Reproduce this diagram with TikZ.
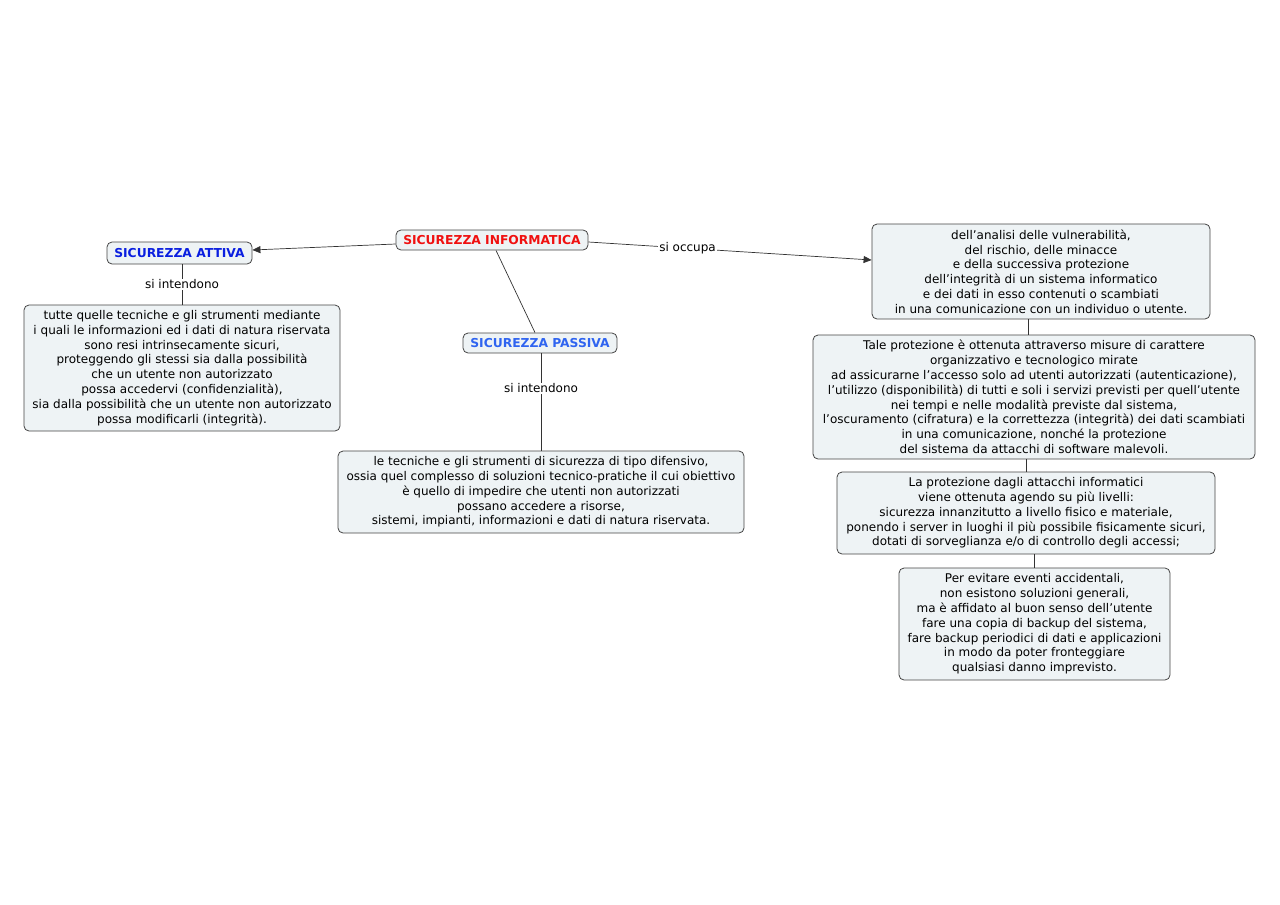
\documentclass[tikz,border=0pt]{standalone}
\usepackage{fontspec}
\setmainfont{DejaVu Sans}
\usetikzlibrary{arrows.meta,calc}
\definecolor{boxfill}{HTML}{EEF3F5}
\definecolor{boxline}{HTML}{444444}
\definecolor{redtitle}{HTML}{F01010}
\definecolor{bluetitle}{HTML}{0A1EE0}
\definecolor{lblue}{HTML}{2F64F0}
\tikzset{
  cbox/.style={draw=boxline, fill=boxfill, rounded corners=5pt, line width=0.8pt,
    align=center, inner sep=0pt, font=\fontsize{12}{14.8}\selectfont,
    execute at begin node={\rule{0pt}{13.5pt}}},
  tbox/.style={draw=boxline, fill=boxfill, rounded corners=5pt, line width=0.8pt,
    align=center, inner sep=0pt, font=\fontsize{12.3}{14}\selectfont\bfseries},
  lbl/.style={fill=white, inner sep=1pt, font=\fontsize{12}{14}\selectfont},
  conn/.style={draw=black!80, line width=0.7pt},
  arr/.style={conn, -{Triangle[length=8pt,width=7pt]}}
}
\begin{document}
\begin{tikzpicture}[x=1pt,y=-1pt]
\useasboundingbox (0,0) rectangle (1280,905);
\node[tbox, minimum width=192pt, minimum height=20pt, text=redtitle] (inf) at (492,240) {SICUREZZA INFORMATICA};
\node[tbox, minimum width=145pt, minimum height=22pt, text=bluetitle] (att) at (179.5,253) {SICUREZZA ATTIVA};
\node[tbox, minimum width=154pt, minimum height=20pt, text=lblue] (pas) at (540,343) {SICUREZZA PASSIVA};
\node[cbox, minimum width=316pt, minimum height=126pt] (lb) at (182,368) {tutte quelle tecniche e gli strumenti mediante\\i quali le informazioni ed i dati di natura riservata\\sono resi intrinsecamente sicuri,\\proteggendo gli stessi sia dalla possibilità\\che un utente non autorizzato\\possa accedervi (confidenzialità),\\sia dalla possibilità che un utente non autorizzato\\possa modificarli (integrità).};
\node[cbox, minimum width=406pt, minimum height=82pt] (pb) at (541,492) {le tecniche e gli strumenti di sicurezza di tipo difensivo,\\ossia quel complesso di soluzioni tecnico-pratiche il cui obiettivo\\è quello di impedire che utenti non autorizzati\\possano accedere a risorse,\\sistemi, impianti, informazioni e dati di natura riservata.};
\node[cbox, minimum width=338pt, minimum height=95pt] (r1) at (1041,271.5) {dell’analisi delle vulnerabilità,\\del rischio, delle minacce\\e della successiva protezione\\dell’integrità di un sistema informatico\\e dei dati in esso contenuti o scambiati\\in una comunicazione con un individuo o utente.};
\node[cbox, minimum width=442pt, minimum height=124pt] (r2) at (1034,397) {Tale protezione è ottenuta attraverso misure di carattere\\organizzativo e tecnologico mirate\\ad assicurarne l’accesso solo ad utenti autorizzati (autenticazione),\\l’utilizzo (disponibilità) di tutti e soli i servizi previsti per quell’utente\\nei tempi e nelle modalità previste dal sistema,\\l’oscuramento (cifratura) e la correttezza (integrità) dei dati scambiati\\in una comunicazione, nonché la protezione\\del sistema da attacchi di software malevoli.};
\node[cbox, minimum width=378pt, minimum height=82pt] (r3) at (1026,513) {La protezione dagli attacchi informatici\\viene ottenuta agendo su più livelli:\\sicurezza innanzitutto a livello fisico e materiale,\\ponendo i server in luoghi il più possibile fisicamente sicuri,\\dotati di sorveglianza e/o di controllo degli accessi;};
\node[cbox, minimum width=271pt, minimum height=112pt] (r4) at (1034.5,624) {Per evitare eventi accidentali,\\non esistono soluzioni generali,\\ma è affidato al buon senso dell’utente\\fare una copia di backup del sistema,\\fare backup periodici di dati e applicazioni\\in modo da poter fronteggiare\\qualsiasi danno imprevisto.};
% connectors
\draw[arr] ([yshift=-4pt]inf.west) -- ([yshift=3pt]att.east);
\draw[conn] ([xshift=4pt]inf.south) -- ([xshift=-5pt]pas.north);
\draw[arr] ([yshift=-2pt]inf.east) -- node[lbl, pos=0.35] {si occupa} ([yshift=11.5pt]r1.west);
\draw[conn] (lb.north |- att.south) -- node[lbl, pos=0.5] {si intendono} (lb.north);
\draw[conn] (pb.north |- pas.south) -- node[lbl, pos=0.36] {si intendono} (pb.north);
\draw[conn] ([xshift=-13pt]r1.south) -- ([xshift=-13pt]r1.south |- r2.north);
\draw[conn] (r3.north |- r2.south) -- (r3.north);
\draw[conn] (r4.north |- r3.south) -- (r4.north);
\end{tikzpicture}
\end{document}
